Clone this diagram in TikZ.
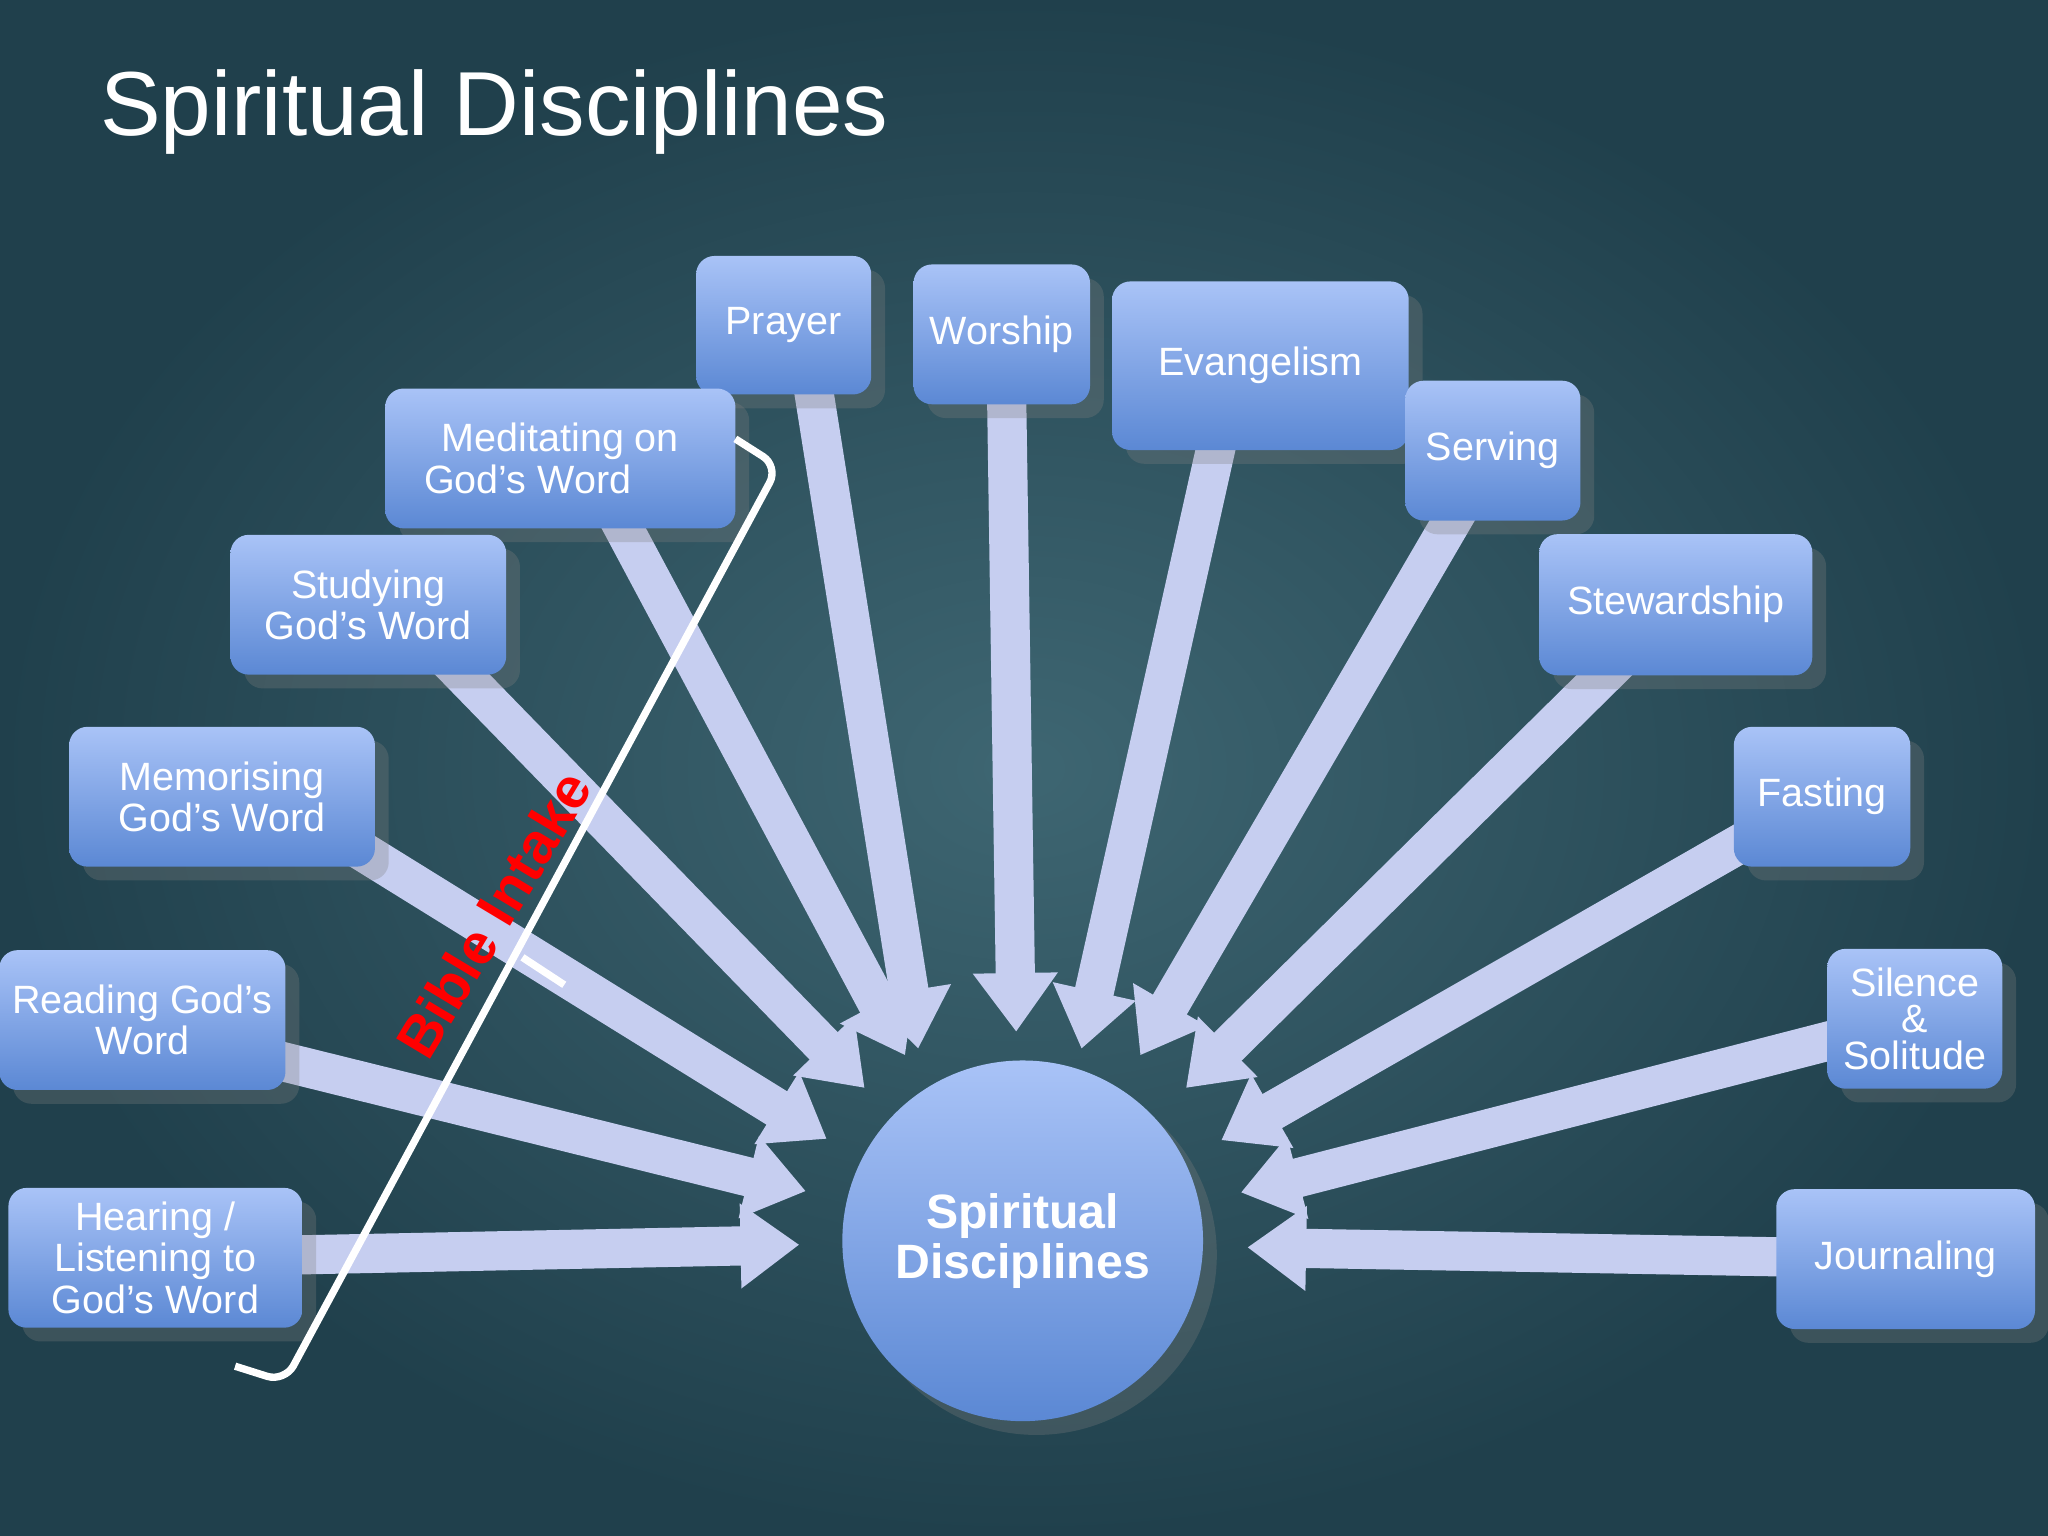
\documentclass[tikz,border=0pt]{standalone}
\usepackage{fontspec}
\setmainfont{Liberation Sans}
\usetikzlibrary{arrows.meta,shadows}
\pgfdeclarelayer{bg}\pgfdeclarelayer{back}
\pgfsetlayers{bg,back,main}
\definecolor{bgA}{HTML}{20404C}
\definecolor{bgB}{HTML}{3E6672}
\definecolor{boxT}{HTML}{A9C3F7}
\definecolor{boxB}{HTML}{5B88D4}
\definecolor{arr}{HTML}{C6CEF0}
\tikzset{
 shd/.style={drop shadow={opacity=0.3,shadow xshift=3pt,shadow yshift=-3pt}},
 box/.style={rectangle,rounded corners=4pt,top color=boxT,bottom color=boxB,text=white,
  font=\fontsize{8.6pt}{9pt}\selectfont,align=center,inner sep=0pt,shd},
 arw/.style={draw=arr,line width=0.3cm,-{Triangle[width=0.62cm,length=0.45cm]}},
}
\begin{document}
\begin{tikzpicture}[x=0.01cm,y=-0.01cm]
\useasboundingbox (0,0) rectangle (1568,1176);
\begin{pgfonlayer}{bg}
\shade[inner color=bgB,outer color=bgA] (0,0) rectangle (1568,1176);
\end{pgfonlayer}
\node[text=white,font=\fontsize{19.8pt}{20pt}\selectfont,anchor=west,inner sep=0pt] (title) at (76,86) {Spiritual Disciplines};
\node[box,minimum width=1.34cm,minimum height=1.06cm] (prayer) at (600,249) {Prayer};
\node[box,minimum width=1.35cm,minimum height=1.07cm] (worship) at (767,256) {Worship};
\node[box,minimum width=2.27cm,minimum height=1.29cm] (evang) at (965,280) {Evangelism};
\node[box,minimum width=1.34cm,minimum height=1.07cm] (serving) at (1143,345) {Serving};
\node[box,minimum width=2.09cm,minimum height=1.08cm] (stew) at (1283,463) {Stewardship};
\node[box,minimum width=1.35cm,minimum height=1.07cm] (fast) at (1395,610) {Fasting};
\node[box,minimum width=1.34cm,minimum height=1.07cm] (sil) at (1466,780) {Silence\\[-1pt]\&\\[-1pt]Solitude};
\node[box,minimum width=1.98cm,minimum height=1.07cm] (journ) at (1459,964) {Journaling};
\node[box,minimum width=2.68cm,minimum height=1.07cm] (med) at (429,351) {Meditating on\\God’s Word\hspace*{0.5cm}};
\node[box,minimum width=2.11cm,minimum height=1.07cm] (stud) at (282,463) {Studying\\God’s Word};
\node[box,minimum width=2.34cm,minimum height=1.07cm] (mem) at (170,610) {Memorising\\God’s Word};
\node[box,minimum width=2.19cm,minimum height=1.07cm] (read) at (109,781) {Reading God’s\\Word};
\node[box,minimum width=2.25cm,minimum height=1.07cm] (hear) at (119,963) {Hearing /\\Listening to\\God’s Word};
\node[circle,minimum size=2.76cm,top color=boxT,bottom color=boxB,text=white,
 font=\bfseries\fontsize{10.5pt}{11pt}\selectfont,align=center,shd] (sd) at (783,950) {Spiritual\\Disciplines};
\foreach \n/\x/\y in {e1/703/803,e2/778/790,e3/828/803,e4/873/808,e5/908/833,e6/935/873,
 e7/950/913,e8/955/955,e9/693/808,e10/662/833,e11/633/872,e12/617/912,e13/612/953}
 \coordinate (\n) at (\x,\y);
\begin{pgfonlayer}{back}
\draw[arw] (prayer.center) ++(15,0) -- (e1);
\draw[arw] (worship.center) ++(3,0) -- (e2);
\draw[arw] (evang.center) ++(-20,0) -- (e3);
\draw[arw] (serving.center) -- (e4);
\draw[arw] (stew.center) -- (e5);
\draw[arw] (fast.center) -- (e6);
\draw[arw] (sil.center) -- (e7);
\draw[arw] (journ.center) -- (e8);
\draw[arw] (med.center) ++(20,0) -- (e9);
\draw[arw] (stud.center) ++(20,0) -- (e10);
\draw[arw] (mem.center) ++(40,0) -- (e11);
\draw[arw] (read.center) ++(80,25) -- (e12);
\draw[arw] (hear.center) -- (e13);
\end{pgfonlayer}
\coordinate (b1) at (180,1046);
\coordinate (b2) at (218,1058);
\coordinate (b3) at (596,357);
\coordinate (b4) at (563,336);
\coordinate (bm) at (400,733);
\coordinate (bt) at (432,754);
\draw[white,line width=1.6pt,line join=round,rounded corners=4pt] (b1) -- (b2) -- (b3) -- (b4);
\draw[white,line width=1.6pt,line join=round] (bm) -- (bt);
\node[text=red,font=\bfseries\fontsize{12.5pt}{13pt}\selectfont,rotate=59,inner sep=0pt] (bi) at (378,700) {Bible Intake};
\end{tikzpicture}
\end{document}
